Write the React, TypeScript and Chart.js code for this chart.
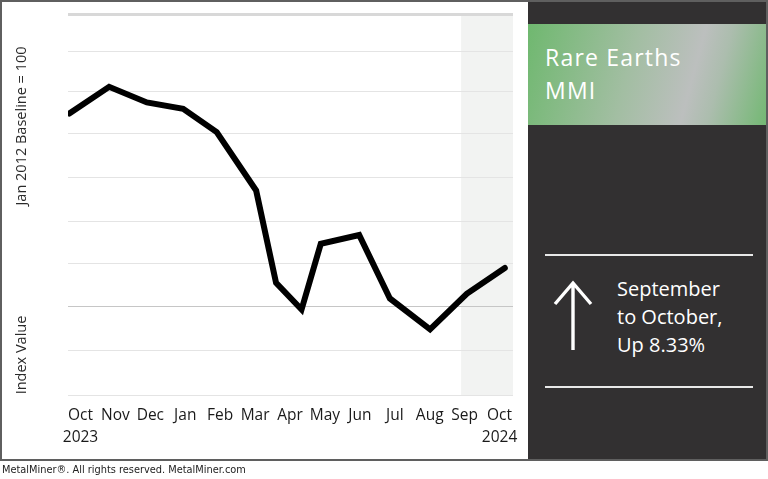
import { useEffect, useRef } from 'react';
import { Chart, registerables } from 'chart.js';

Chart.register(...registerables);

// month ticks, one per label (Oct 2023 .. Oct 2024)
const monthLabels: (string | string[])[] = [
  ['Oct', '2023'], 'Nov', 'Dec', 'Jan', 'Feb', 'Mar', 'Apr',
  'May', 'Jun', 'Jul', 'Aug', 'Sep', ['Oct', '2024'],
];

// index readings, x in month units (0 = Oct 2023 label)
const readingPos = [-0.32, 0.82, 1.9, 2.94, 3.9, 5.03, 5.6, 6.33, 6.88, 7.98, 8.86, 10.01, 11.06, 12.15];
const readingVal = [66.5, 72.8, 69.1, 67.6, 62.1, 48.3, 26.5, 20.2, 35.7, 37.8, 22.8, 15.5, 23.9, 30.0];

// horizontal grid lines (not quite even)
const gridTicks = [0, 10.5, 21, 31, 41, 51.3, 61.7, 71.8, 81.1, 90];
const shadeFrom = 10.9; // start of the Sep-Oct highlight

const FONT = '"Open Sans", "Noto Sans", sans-serif';

const shadePlugin = {
  id: 'shade',
  beforeDraw(chart: any) {
    const { ctx, chartArea, scales } = chart;
    const x0 = scales.x.getPixelForValue(shadeFrom);
    ctx.save();
    ctx.fillStyle = '#f2f3f2';
    ctx.fillRect(x0, chartArea.top, chartArea.right - x0, chartArea.bottom - chartArea.top);
    ctx.restore();
  },
};

function LineChart() {
  const canvasRef = useRef<HTMLCanvasElement>(null);

  useEffect(() => {
    if (!canvasRef.current) return;
    const chart = new Chart(canvasRef.current, {
      type: 'line',
      data: {
        datasets: [
          {
            data: readingPos.map((x, i) => ({ x, y: readingVal[i] })),
            borderColor: '#000',
            borderWidth: 6,
            borderCapStyle: 'round',
            borderJoinStyle: 'miter',
            pointRadius: 0,
            tension: 0,
          },
        ],
      },
      options: {
        animation: false,
        responsive: false,
        layout: { padding: { left: 68, right: 15, top: 14, bottom: 0 } },
        plugins: { legend: { display: false }, tooltip: { enabled: false } },
        scales: {
          x: {
            type: 'linear',
            min: -0.358,
            max: 12.385,
            afterBuildTicks: (s: any) => {
              s.ticks = monthLabels.map((_, i) => ({ value: i }));
            },
            afterFit: (s: any) => {
              s.height = 64;
            },
            grid: { display: false },
            border: { display: false },
            ticks: {
              autoSkip: false,
              maxRotation: 0,
              padding: 2,
              color: '#1a1a1a',
              font: { family: FONT, size: 15.5, lineHeight: 1.42 },
              callback: (v: any) => monthLabels[v as number],
            },
          },
          y: {
            min: 0,
            max: 90,
            afterBuildTicks: (s: any) => {
              s.ticks = gridTicks.map((value) => ({ value }));
            },
            afterFit: (s: any) => {
              s.width = 0;
            },
            border: { display: false },
            ticks: { display: false },
            grid: {
              drawTicks: false,
              lineWidth: (c: any) => (c.tick && c.tick.value === 90 ? 3 : 1),
              color: (c: any) => {
                const v = c.tick ? c.tick.value : 0;
                if (v === 90) return '#d8d8d8';
                if (v === 21) return '#c6c6c6';
                return '#e4e4e4';
              },
            },
          },
        },
      },
      plugins: [shadePlugin],
    });
    return () => chart.destroy();
  }, []);

  return <canvas ref={canvasRef} width={528} height={459} style={{ position: 'absolute', left: 0, top: 0 }} />;
}

const sideTitle = {
  position: 'absolute' as const,
  left: 0,
  top: 0,
  transform: 'translate(-50%, -50%) rotate(-90deg)',
  whiteSpace: 'nowrap' as const,
  fontSize: 14.5,
  color: '#2a2a2a',
  lineHeight: '20px',
  marginLeft: 10,
};

export default function App() {
  return (
    <div style={{ position: 'fixed', left: 0, top: 0, width: 768, height: 479, background: '#fff', fontFamily: FONT, overflow: 'hidden' }}>
      <div style={{ position: 'absolute', left: 528, top: 0, width: 240, height: 460, background: '#323031' }} />
      <div
        style={{
          position: 'absolute', left: 528, top: 24, width: 240, height: 101,
          background: 'linear-gradient(105deg, #6fb86f 0%, #a2bea2 42%, #bcbfbe 67%, #acbdae 77%, #72b872 100%)',
        }}
      />
      <div style={{ position: 'absolute', left: 545, top: 41, color: '#fff', fontSize: 23, lineHeight: '33px', letterSpacing: 1.2 }}>
        Rare Earths<br />MMI
      </div>
      <div style={{ position: 'absolute', left: 545, top: 254, width: 208, height: 2, background: '#e8e8e8' }} />
      <div style={{ position: 'absolute', left: 545, top: 386, width: 208, height: 2, background: '#e8e8e8' }} />
      <svg style={{ position: 'absolute', left: 553, top: 279 }} width={42} height={74}>
        <path d="M20 4 L20 71 M2 25 L20 4 L38 25" stroke="#fff" strokeWidth={3.4} fill="none" />
      </svg>
      <div style={{ position: 'absolute', left: 617, top: 275, color: '#fff', fontSize: 20, lineHeight: '28px' }}>
        September<br />to October,<br />Up 8.33%
      </div>
      <LineChart />
      <div style={{ position: 'absolute', left: 11, top: 126, width: 0, height: 0 }}>
        <div style={sideTitle}>Jan 2012 Baseline = 100</div>
      </div>
      <div style={{ position: 'absolute', left: 11, top: 355, width: 0, height: 0 }}>
        <div style={sideTitle}>Index Value</div>
      </div>
      <div style={{ position: 'absolute', left: 0, top: 0, width: 768, height: 461, border: '2px solid #5f5f5f', boxSizing: 'border-box', pointerEvents: 'none' }} />
      <div style={{ position: 'absolute', left: 2, top: 464, fontFamily: '"DejaVu Sans", Verdana, sans-serif', fontSize: 9.8, color: '#222', whiteSpace: 'nowrap' }}>
        MetalMiner®. All rights reserved. MetalMiner.com
      </div>
    </div>
  );
}
